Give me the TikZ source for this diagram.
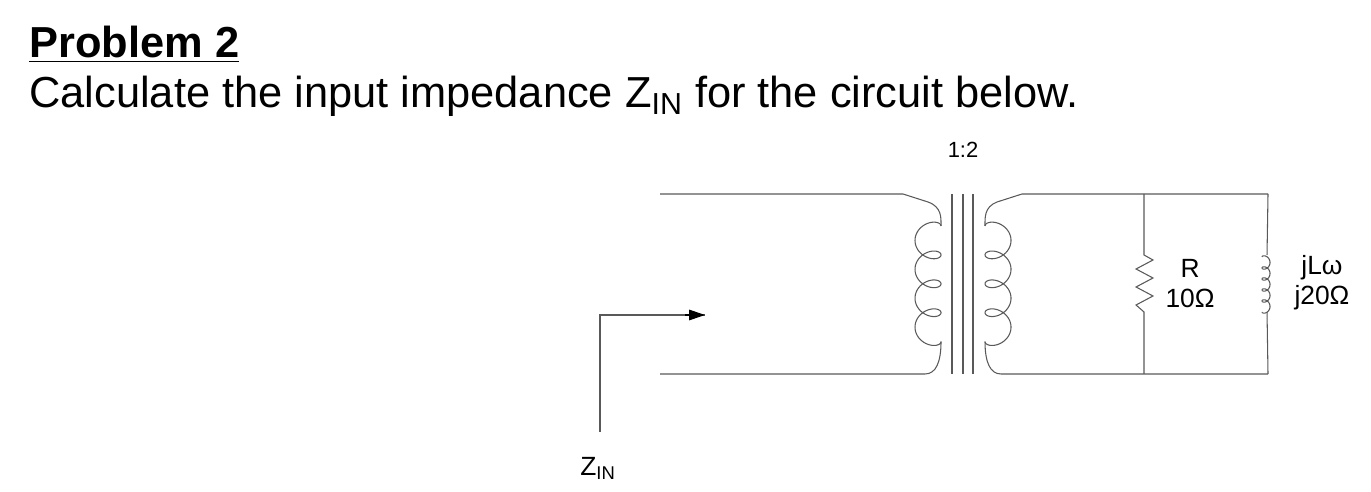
\documentclass[tikz,border=0pt]{standalone}
\usepackage{fontspec}
\setmainfont{Liberation Sans}
\usetikzlibrary{arrows.meta}
\begin{document}
\begin{tikzpicture}[x=0.02cm,y=-0.02cm,
  wire/.style={draw=black!65,line width=0.6pt},
  lbl/.style={font=\fontsize{15}{17}\selectfont,inner sep=0pt}]
\useasboundingbox (0,0) rectangle (1371,492);
\node[anchor=base west,inner sep=0pt,font=\fontsize{24.7}{28}\selectfont\bfseries] (title) at (29,58) {\underline{Problem 2}};
\node[anchor=base west,inner sep=0pt,font=\fontsize{24.7}{28}\selectfont] (q) at (29,108) {Calculate the input impedance Z\textsubscript{IN} for the circuit below.};
\node[lbl,font=\fontsize{12.5}{14}\selectfont] (ratio) at (963,150) {1:2};
% coordinates
\coordinate (pt) at (660,194); \coordinate (pb) at (660,374);
\coordinate (st) at (1268,194); \coordinate (sb) at (1268,374);
\coordinate (rt) at (1144,194); \coordinate (rb) at (1144,374);
% primary
\draw[wire] (pt) -- (903,194) -- (928,202) .. controls (942,207) and (941,218) .. (941,226);
\draw[wire] plot[domain=0:8*pi,samples=240,variable=\t] ({928+13*cos(\t r)},{226+4.6*\t-10*sin(\t r)});
\draw[wire] (941,341.6) .. controls (941,362) and (936,374) .. (925,374) -- (pb);
% core
\foreach \x in {952,963,973} \draw[wire] (\x,194) -- (\x,374);
% secondary
\draw[wire] (st) -- (1022,194) -- (997,202) .. controls (984,207) and (985,218) .. (985,226);
\draw[wire] plot[domain=0:8*pi,samples=240,variable=\t] ({998-13*cos(\t r)},{226+4.6*\t-10*sin(\t r)});
\draw[wire] (985,341.6) .. controls (985,362) and (990,374) .. (1001,374) -- (sb);
% resistor
\draw[wire] (rt) -- (1144,255) -- (1153,260) -- (1136,269) -- (1153,278) -- (1136,287) -- (1153,296) -- (1136,305) -- (1144,312) -- (rb);
% inductor
\draw[wire] (st) -- (1267,255);
\draw[wire] plot[domain=0:10*pi,samples=200,variable=\t] ({1266-4*cos(\t r)},{257+1.75*\t-3.5*sin(\t r)});
\draw[wire] (1267,312) -- (sb);
\node[lbl] (R) at (1190,268) {R};
\node[lbl] (Rv) at (1190,298) {10Ω};
\node[lbl] (L) at (1322,268) {jLω};
\node[lbl] (Lv) at (1322,298) {j20Ω};
% ZIN arrow
\node[lbl] (zin) at (598,468) {Z\textsubscript{IN}};
\coordinate (zs) at (600,432); \coordinate (zc) at (600,315); \coordinate (ze) at (705,315);
\draw[wire] (zs) -- (zc) -- (ze);
\draw[draw=black,line width=0.6pt,-{Triangle[length=9pt,width=6pt]}] (685,315) -- (ze);
\end{tikzpicture}
\end{document}
